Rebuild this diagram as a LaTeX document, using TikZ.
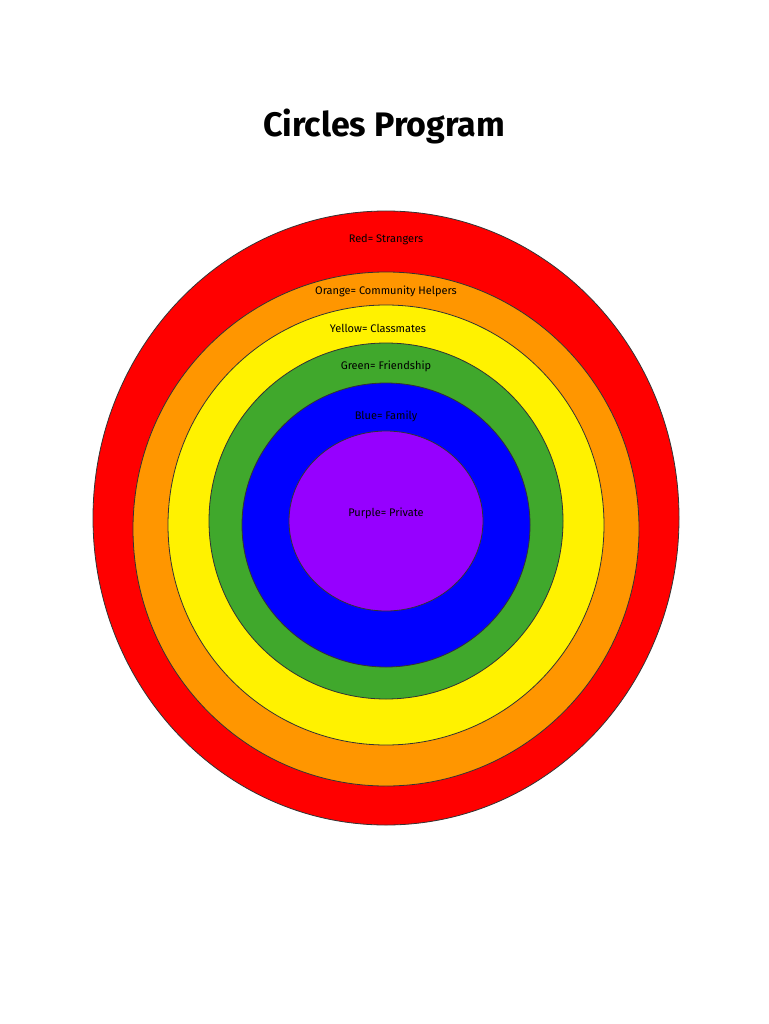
\documentclass[tikz,border=0pt]{standalone}
\usepackage{fontspec}
\setmainfont{Fira Sans}
\begin{document}
\begin{tikzpicture}[x=1pt,y=-1pt,
  ring/.style={draw=black!80,line width=0.8pt},
  lbl/.style={font=\fontsize{11}{13}\selectfont}]
\useasboundingbox[fill=white] (0,0) rectangle (768,1024);
\node[font=\bfseries\fontsize{34}{40}\selectfont] (title) at (384,126) {Circles Program};
\filldraw[ring,fill=red] (386,518) ellipse [x radius=293,y radius=307];
\filldraw[ring,fill={rgb,255:red,255;green,150;blue,0}] (386,529) ellipse [x radius=253,y radius=257];
\filldraw[ring,fill=yellow] (386,525) ellipse [x radius=218,y radius=220];
\filldraw[ring,fill={rgb,255:red,64;green,168;blue,44}] (386,521) ellipse [x radius=177,y radius=178];
\filldraw[ring,fill=blue] (386,525) ellipse [x radius=144,y radius=142];
\filldraw[ring,fill={rgb,255:red,150;green,0;blue,255}] (386,521) ellipse [x radius=97,y radius=90];
\node[lbl] (r) at (386,240) {Red= Strangers};
\node[lbl] (o) at (386,291) {Orange= Community Helpers};
\node[lbl] (y) at (378,328) {Yellow= Classmates};
\node[lbl] (g) at (386,366) {Green= Friendship};
\node[lbl] (b) at (386,416) {Blue= Family};
\node[lbl] (p) at (386,513) {Purple= Private};
\end{tikzpicture}
\end{document}
